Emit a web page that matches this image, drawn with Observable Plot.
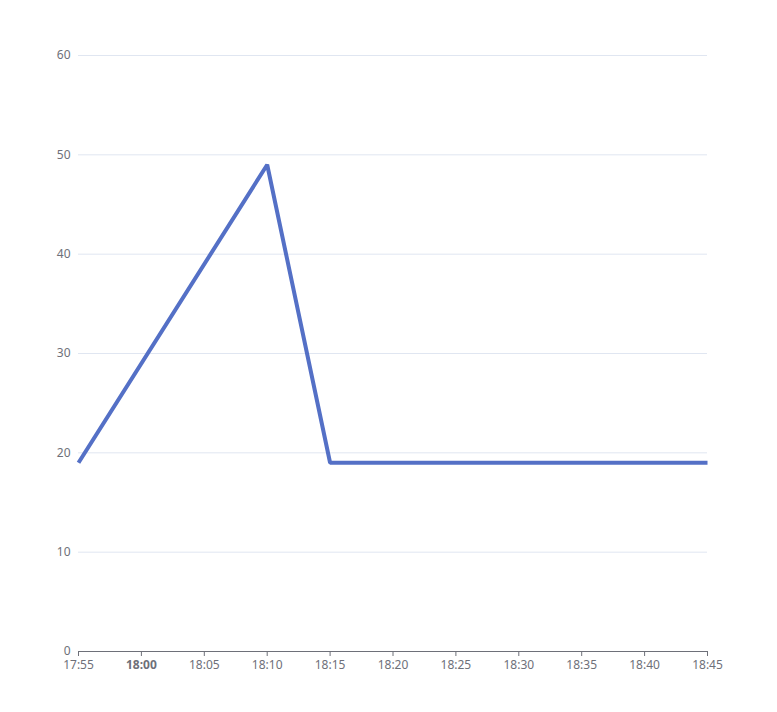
<!DOCTYPE html>
<html><head><meta charset="utf-8">
<script src="https://cdn.jsdelivr.net/npm/d3@7"></script>
<script src="https://cdn.jsdelivr.net/npm/@observablehq/plot@0.6"></script>
<style>body{margin:0;background:#fff}</style>
</head><body><div id="chart"></div>
<script>
const times = ["17:55","18:10","18:15","18:20","18:25","18:30","18:35","18:40","18:45"];
const values = [19, 49, 19, 19, 19, 19, 19, 19, 19];
const xTicks = ["17:55","18:00","18:05","18:10","18:15","18:20","18:25","18:30","18:35","18:40","18:45"];
const yTicks = [0,10,20,30,40,50,60];

const toDate = s => new Date(`2024-01-01T${s}:00Z`);
const data = times.map((t,i)=>({t: toDate(t), v: values[i]}));
const xTickDates = xTicks.map(toDate);

const chart = Plot.plot({
  width: 777, height: 712,
  marginLeft: 78, marginRight: 70, marginTop: 55, marginBottom: 61,
  style: {fontFamily: "'Noto Sans', sans-serif", fontSize: "12px", color: "#6E7079", background: "#fff"},
  x: {type: "utc", domain: [toDate("17:55"), toDate("18:45")], label: null},
  y: {domain: [0, 60], label: null},
  marks: [
    Plot.ruleY(yTicks.filter(d=>d>0), {stroke: "#E0E6F1", strokeOpacity: 1, strokeWidth: 1}),
    Plot.axisY({ticks: yTicks, tickSize: 0, tickPadding: 8, fill: "#6E7079", label: null}),
    Plot.ruleY([0], {stroke: "#6E7079", strokeWidth: 1}),
    Plot.axisX({ticks: xTickDates, tickFormat: d3.utcFormat("%H:%M"), tickSize: 5, tickPadding: 4, stroke: "#6E7079", fill: "#6E7079", label: null}),
    Plot.line(data, {x: "t", y: "v", stroke: "#5470C6", strokeWidth: 4, strokeLinejoin: "bevel", strokeLinecap: "butt"})
  ]
});
chart.querySelectorAll("text").forEach(t => { if (t.textContent === "18:00") { t.setAttribute("font-weight","bold"); } });
document.getElementById("chart").appendChild(chart);
</script>
</body></html>
